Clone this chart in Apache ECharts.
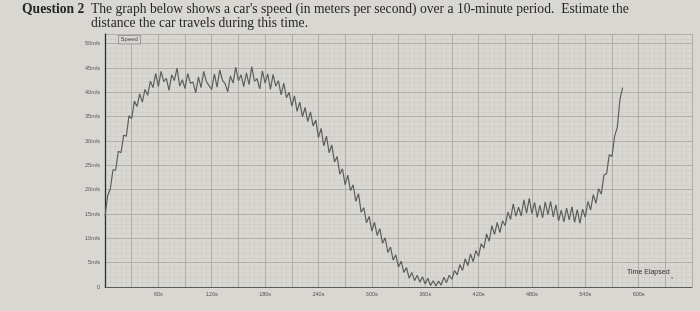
<!DOCTYPE html>
<html>
<head>
<meta charset="utf-8">
<script src="https://cdn.jsdelivr.net/npm/echarts@6/dist/echarts.min.js"></script>
<style>
html,body{margin:0;padding:0;background:#d9d7d2;}
#chart{width:700px;height:311px;}
</style>
</head>
<body>
<div id="chart"></div>
<script>
// Time elapsed (seconds) and speed (m/s)
const seconds = [
  0,3,6,9,12,15,18,21,24,27,
  30,33,36,39,42,45,48,51,54,57,
  60,63,66,69,72,75,78,81,84,87,
  90,93,96,99,102,105,108,111,114,117,
  120,123,126,129,132,135,138,141,144,147,
  150,153,156,159,162,165,168,171,174,177,
  180,183,186,189,192,195,198,201,204,207,
  210,213,216,219,222,225,228,231,234,237,
  240,243,246,249,252,255,258,261,264,267,
  270,273,276,279,282,285,288,291,294,297,
  300,303,306,309,312,315,318,321,324,327,
  330,333,336,339,342,345,348,351,354,357,
  360,363,366,369,372,375,378,381,384,387,
  390,393,396,399,402,405,408,411,414,417,
  420,423,426,429,432,435,438,441,444,447,
  450,453,456,459,462,465,468,471,474,477,
  480,483,486,489,492,495,498,501,504,507,
  510,513,516,519,522,525,528,531,534,537,
  540,543,546,549,552,555,558,561,564,567,
  570,573,576,579,582
];
const speed = [
  14.5,18.8,20.2,24.1,24.0,27.9,27.6,31.2,31.0,35.2,
  34.6,38.2,37.1,39.7,38.0,40.6,39.4,42.3,41.0,43.9,
  41.2,44.3,42.2,42.9,40.4,43.6,42.4,45.0,41.3,42.6,
  40.8,43.9,41.9,42.1,39.9,43.2,41.0,44.3,42.2,41.4,
  40.6,43.8,41.1,44.6,42.5,41.8,40.1,43.4,41.9,45.2,
  42.4,43.6,41.2,44.0,41.6,45.3,42.3,42.8,40.7,44.4,
  41.9,43.8,40.6,43.7,41.3,42.4,39.5,41.9,38.9,40.0,
  37.2,39.3,36.1,38.0,35.0,36.9,34.0,36.0,33.1,34.3,
  30.7,32.6,29.0,31.0,27.6,29.2,25.7,26.8,23.2,24.3,
  21.0,23.0,19.8,21.0,17.6,19.2,15.4,16.3,13.2,14.5,
  11.5,13.3,10.6,12.0,9.0,10.1,7.1,8.2,5.5,6.6,
  4.1,5.3,3.0,4.0,1.8,3.0,1.3,2.4,1.0,2.1,
  0.6,1.8,0.3,1.3,0.2,1.2,0.4,2.0,0.9,2.4,
  1.6,3.4,2.5,4.6,3.4,5.8,4.4,6.8,5.2,7.5,
  6.3,8.9,8.0,10.9,9.4,12.6,10.8,13.3,11.2,13.6,
  12.6,15.4,13.9,17.1,14.5,16.4,14.6,17.9,15.2,18.2,
  15.1,17.4,14.3,16.8,14.2,17.5,14.9,17.6,14.4,16.9,
  13.6,15.8,13.4,16.2,13.8,16.5,13.3,15.9,13.1,16.0,
  14.3,17.6,15.8,19.0,17.2,20.2,19.1,23.0,23.3,27.2,
  26.8,31.0,32.8,38.6,41.0
];
const xTickLabels = [60,120,180,240,300,360,420,480,540,600];
const yTickLabels = [0,5,10,15,20,25,30,35,40,45,50];

const questionLabel = 'Question 2';
const questionLine1 = "The graph below shows a car's speed (in meters per second) over a 10-minute period.  Estimate the";
const questionLine2 = 'distance the car travels during this time.';

const chart = echarts.init(document.getElementById('chart'), null, {renderer: 'canvas'});
const majorColor = '#afada8';
const minorColor = '#cbc9c4';

chart.setOption({
  backgroundColor: '#d9d7d2',
  animation: false,
  grid: {left: 105, right: 8, top: 34, bottom: 24, containLabel: false},
  xAxis: {
    type: 'value', min: 0, max: 660, interval: 30,
    axisLine: {show: true, onZero: false, lineStyle: {color: '#5a5a5a', width: 1}},
    axisTick: {show: false},
    axisLabel: {
      fontSize: 5.5, color: '#555', margin: 4, fontFamily: 'Liberation Sans',
      formatter: v => xTickLabels.indexOf(v) >= 0 ? v + 's' : ''
    },
    splitLine: {show: true, lineStyle: {color: majorColor, width: 1}},
    minorTick: {show: false, splitNumber: 5},
    minorSplitLine: {show: true, lineStyle: {color: minorColor, width: 0.5}}
  },
  yAxis: {
    type: 'value', min: 0, max: 52, interval: 5,
    axisLine: {show: true, lineStyle: {color: '#2e2e2e', width: 1.3}},
    axisTick: {show: false},
    axisLabel: {
      fontSize: 5.5, color: '#555', margin: 5, fontFamily: 'Liberation Sans',
      formatter: v => v === 0 ? '0' : (yTickLabels.indexOf(v) >= 0 ? v + 'm/s' : '')
    },
    splitLine: {show: true, lineStyle: {color: majorColor, width: 1}},
    minorTick: {show: false, splitNumber: 5},
    minorSplitLine: {show: true, lineStyle: {color: minorColor, width: 0.5}}
  },
  series: [{
    type: 'line',
    data: seconds.map((t, i) => [t, speed[i]]),
    showSymbol: false,
    symbol: 'none',
    lineStyle: {color: '#5e5e5e', width: 1.2},
    z: 5
  }],
  graphic: [
    {type: 'text', left: 22, top: 2, style: {text: questionLabel, font: 'bold 13.6px "Liberation Serif"', fill: '#262626'}},
    {type: 'text', left: 91, top: 2, style: {text: questionLine1, font: '13.6px "Liberation Serif"', fill: '#262626'}},
    {type: 'text', left: 91, top: 16, style: {text: questionLine2, font: '13.6px "Liberation Serif"', fill: '#262626'}},
    {type: 'text', left: 118, top: 35, style: {text: 'Speed', font: '6px "Liberation Sans"', fill: '#444', borderColor: '#777', borderWidth: 0.6, padding: [1, 2], backgroundColor: '#d9d7d2'}, z: 10},
    {type: 'text', left: 627, top: 269, style: {text: 'Time Elapsed', font: '7px "Liberation Sans"', fill: '#333'}, z: 10},
    {type: 'text', left: 671, top: 276, style: {text: 's', font: '4px "Liberation Sans"', fill: '#444'}, z: 10}
  ]
});
</script>
</body>
</html>
